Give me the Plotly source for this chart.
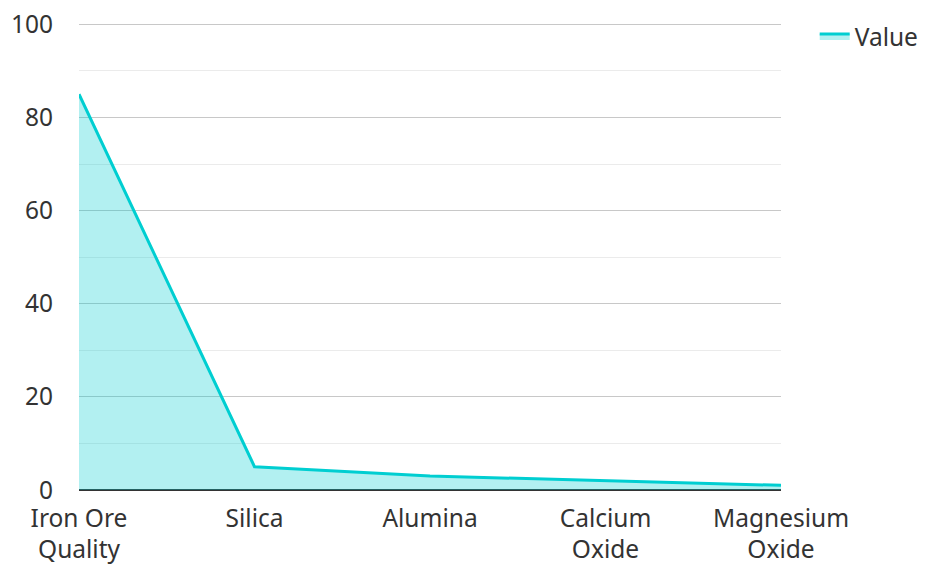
import plotly.graph_objects as go

categories = ["Iron Ore<br>Quality", "Silica", "Alumina", "Calcium<br>Oxide", "Magnesium<br>Oxide"]
values = [85, 5, 3, 2, 1]
series_name = "Value"

FS = 24.5
fig = go.Figure()
fig.add_trace(go.Scatter(
    x=categories, y=values, name=series_name, mode="lines",
    line=dict(color="#00CED1", width=3),
    fill="tozeroy", fillcolor="rgba(0,206,209,0.3)",
))

# page body has an 8px margin, so the figure is sized to fit the window
fig.update_layout(
    width=923, height=556,
    margin=dict(l=71, r=150, t=15, b=74, autoexpand=False),
    paper_bgcolor="white", plot_bgcolor="white",
    font=dict(family="Noto Sans", size=FS, color="#333333"),
    showlegend=True,
    legend=dict(x=1.048, y=1.02, xanchor="left", yanchor="top",
                font=dict(size=FS, color="#333333"), bgcolor="rgba(0,0,0,0)"),
    xaxis=dict(range=[0, 4], showgrid=False, ticks="", tickfont=dict(size=FS, color="#333333"),
               showline=False, zeroline=False, automargin=False, ticklabelstandoff=11),
    yaxis=dict(range=[0, 100.3], tickvals=[0, 20, 40, 60, 80, 100], showgrid=True,
               gridcolor="#c8c8c8", gridwidth=1, zeroline=True, zerolinecolor="#333333",
               zerolinewidth=2, ticklabelstandoff=25, tickfont=dict(size=FS, color="#333333"),
               automargin=False, ticklabeloverflow="allow",
               minor=dict(tickvals=[10, 30, 50, 70, 90], showgrid=True, gridcolor="#ebebeb", gridwidth=1)),
)

fig.write_html("out.html")
